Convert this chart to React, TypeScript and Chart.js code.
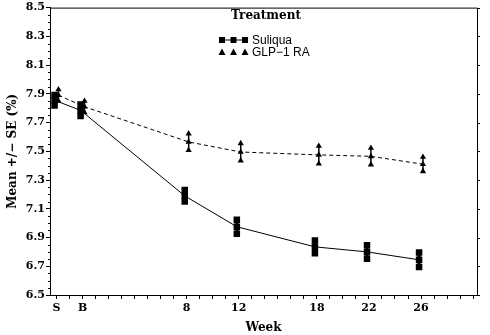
import React, { useEffect, useRef } from "react";
import { Chart, registerables } from "chart.js";

Chart.register(...registerables);

const weeks = [-2, 0, 8, 12, 18, 22, 26];
const weekLabels: Record<string, string> = { "-2": "S", "0": "B", "8": "8", "12": "12", "18": "18", "22": "22", "26": "26" };
const suliquaMean = [7.855, 7.785, 7.19, 6.975, 6.835, 6.8, 6.745];
const suliquaSE = [0.037, 0.04, 0.04, 0.049, 0.045, 0.047, 0.051];
const glpMean = [7.89, 7.81, 7.565, 7.495, 7.475, 7.465, 7.41];
const glpSE = [0.04, 0.04, 0.058, 0.06, 0.062, 0.058, 0.05];
const seriesNames = ["Suliqua", "GLP\u22121 RA"];
const legendTitle = "Treatment";
const xTitle = "Week";
const yTitle = "Mean +/\u2212 SE (%)";
const yMin = 6.5;
const yMax = 8.5;
const yMajorStep = 0.2;
const xMin = -2.5;
const xMax = 30.3;
const dodge = 0.15;

const serif = "'DejaVu Serif', serif";
const sans = "'Liberation Sans', Arial, sans-serif";

const series = [
  { name: seriesNames[0], mean: suliquaMean, se: suliquaSE, off: -dodge, style: "rect", radius: 4.6, dash: [] as number[], barW: 3 },
  { name: seriesNames[1], mean: glpMean, se: glpSE, off: dodge, style: "triangle", radius: 3.6, dash: [4, 3], barW: 1.5 },
];

const isMajor = (v: number) => {
  const k = (v - yMin) / yMajorStep;
  return Math.abs(k - Math.round(k)) < 1e-6;
};

const errorBarPlugin = {
  id: "errbars",
  beforeDatasetsDraw(chart: any) {
    const { ctx } = chart;
    const xs = chart.scales.x;
    const ys = chart.scales.y;
    ctx.save();
    ctx.strokeStyle = "#000";
    series.forEach((s) => {
      ctx.lineWidth = s.barW;
      weeks.forEach((w, i) => {
        const x = xs.getPixelForValue(w + s.off);
        ctx.beginPath();
        ctx.moveTo(x, ys.getPixelForValue(s.mean[i] - s.se[i]));
        ctx.lineTo(x, ys.getPixelForValue(s.mean[i] + s.se[i]));
        ctx.stroke();
      });
    });
    ctx.restore();
  },
};

const framePlugin = {
  id: "frame",
  afterDraw(chart: any) {
    const { ctx, chartArea: a } = chart;
    const ys = chart.scales.y;
    ctx.save();
    ctx.strokeStyle = "#000";
    ctx.lineWidth = 1;
    ctx.beginPath();
    ctx.moveTo(a.left, a.top + 0.5);
    ctx.lineTo(a.right + 0.5, a.top + 0.5);
    ctx.lineTo(a.right + 0.5, a.bottom);
    ctx.stroke();
    for (let v = yMin; v <= yMax + 1e-9; v += 0.05) {
      const y = Math.round(ys.getPixelForValue(v)) + 0.5;
      if (!isMajor(v)) {
        ctx.beginPath();
        ctx.moveTo(a.left - 2, y);
        ctx.lineTo(a.left, y);
        ctx.stroke();
      } else {
        ctx.beginPath();
        ctx.moveTo(a.right, y);
        ctx.lineTo(a.right + 3, y);
        ctx.stroke();
      }
    }
    // legend
    ctx.fillStyle = "#000";
    ctx.textBaseline = "middle";
    ctx.textAlign = "center";
    ctx.font = `bold 12px ${serif}`;
    ctx.fillText(legendTitle, 266, 16);
    ctx.textAlign = "left";
    ctx.font = `12px ${sans}`;
    series.forEach((s, i) => {
      const y = 40 + i * 12;
      const x0 = 222;
      const x1 = 245;
      if (!s.dash.length) {
        ctx.beginPath();
        ctx.moveTo(x0, y);
        ctx.lineTo(x1, y);
        ctx.stroke();
      }
      [x0, (x0 + x1) / 2, x1].forEach((px) => {
        if (s.style === "rect") {
          ctx.fillRect(px - 3, y - 3, 6, 6);
        } else {
          ctx.beginPath();
          ctx.moveTo(px, y - 3.5);
          ctx.lineTo(px + 3.5, y + 3);
          ctx.lineTo(px - 3.5, y + 3);
          ctx.closePath();
          ctx.fill();
        }
      });
      ctx.fillText(s.name, 252, y + 1);
    });
    ctx.restore();
  },
};

export default function App() {
  const ref = useRef<HTMLCanvasElement | null>(null);
  useEffect(() => {
    if (!ref.current) return;
    const datasets: any[] = [];
    series.forEach((s) => {
      datasets.push({
        label: s.name,
        data: weeks.map((w, i) => ({ x: w + s.off, y: s.mean[i] })),
        showLine: true,
        borderColor: "#000",
        borderWidth: 1,
        borderDash: s.dash,
        pointStyle: s.style,
        pointRadius: s.radius,
        pointBackgroundColor: "#000",
        pointBorderColor: "#000",
        pointBorderWidth: 0,
      });
      [-1, 1].forEach((sg) => {
        datasets.push({
          label: s.name + (sg > 0 ? " upper" : " lower"),
          data: weeks.map((w, i) => ({ x: w + s.off, y: s.mean[i] + sg * s.se[i] })),
          showLine: false,
          pointStyle: s.style,
          pointRadius: s.radius,
          pointBackgroundColor: "#000",
          pointBorderColor: "#000",
          pointBorderWidth: 0,
        });
      });
    });
    const chart = new Chart(ref.current, {
      type: "scatter",
      data: { datasets },
      plugins: [errorBarPlugin, framePlugin],
      options: {
        animation: false,
        responsive: false,
        maintainAspectRatio: false,
        layout: { padding: { top: 7, right: 13, left: 0, bottom: 0 } },
        plugins: { legend: { display: false }, tooltip: { enabled: false } },
        scales: {
          x: {
            type: "linear",
            min: xMin,
            max: xMax,
            afterFit: (sc: any) => {
              sc.height = 40;
            },
            grid: { drawOnChartArea: false, drawTicks: true, tickLength: 4, color: "#000" },
            border: { display: true, color: "#000", width: 1 },
            ticks: {
              stepSize: 1,
              includeBounds: false,
              autoSkip: false,
              maxRotation: 0,
              padding: 3,
              color: "#000",
              font: { family: serif, size: 11, weight: "bold" },
              callback: (v: any) => weekLabels[String(Math.round(Number(v)))] ?? "",
            },
            title: { display: true, text: xTitle, color: "#000", padding: { top: 0, bottom: 0 }, font: { family: serif, size: 12, weight: "bold" } },
          },
          y: {
            min: yMin,
            max: yMax,
            afterFit: (sc: any) => {
              sc.width = 50;
            },
            afterBuildTicks: (sc: any) => {
              const t: any[] = [];
              for (let k = 0; k <= Math.round((yMax - yMin) / yMajorStep); k++) t.push({ value: yMin + k * yMajorStep });
              sc.ticks = t;
            },
            grid: { drawOnChartArea: false, drawTicks: true, tickLength: 4, color: "#000" },
            border: { display: true, color: "#000", width: 1 },
            ticks: {
              padding: 1,
              color: "#000",
              font: { family: serif, size: 11, weight: "bold" },
              callback: (v: any) => Number(v).toFixed(1),
            },
            title: { display: true, text: yTitle, color: "#000", padding: { top: 6, bottom: 0 }, font: { family: serif, size: 12, weight: "bold" } },
          },
        },
      },
    });
    return () => chart.destroy();
  }, []);
  return (
    <div style={{ position: "fixed", left: 0, top: 0, width: 490, height: 335, background: "#fff" }}>
      <canvas ref={ref} width={490} height={335} style={{ width: 490, height: 335 }} />
    </div>
  );
}
